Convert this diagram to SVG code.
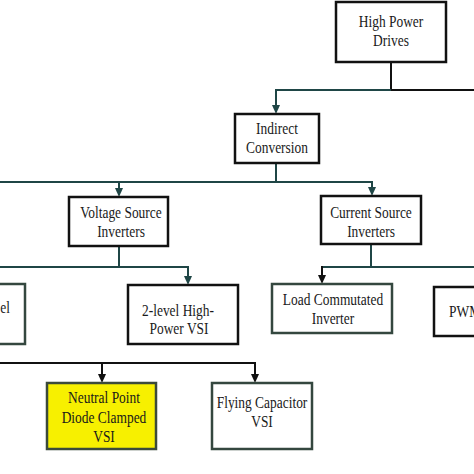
<svg xmlns="http://www.w3.org/2000/svg" width="474" height="474" viewBox="0 0 474 474">
<style>
.bg{fill:#ffffff}
.box{fill:#ffffff;stroke:#111111;stroke-width:2.5}
.boxg{fill:#ffffff;stroke:#34473f;stroke-width:2.5}
.yel{fill:#f7f000;stroke:#3b4a3a;stroke-width:2.5}
text{font-family:"Liberation Serif","Times New Roman",serif;font-size:16px;fill:#1a1a1a;text-anchor:middle}
.t{fill:none;stroke:#1f4646;stroke-width:2}
.k{fill:none;stroke:#111111;stroke-width:2}
.ah{fill:#1f4646}
.ak{fill:#111111}
</style>
<rect class="bg" x="0" y="0" width="474" height="474"/>
<g id="connectors">
<line class="k" x1="391" y1="62" x2="391" y2="90"/>
<line class="t" x1="276" y1="90" x2="391" y2="90"/>
<line class="k" x1="391" y1="90" x2="474" y2="90"/>
<line class="t" x1="276" y1="89" x2="276" y2="106"/>
<polygon class="ah" points="272,105 280,105 276,114"/>
<line class="t" x1="276" y1="163" x2="276" y2="182"/>
<line class="t" x1="-5" y1="182" x2="372" y2="182"/>
<line class="t" x1="119" y1="181" x2="119" y2="189"/>
<polygon class="ah" points="115,188 123,188 119,197"/>
<line class="t" x1="372" y1="181" x2="372" y2="188"/>
<polygon class="ah" points="368,187 376,187 372,196"/>
<line class="t" x1="119" y1="246" x2="119" y2="267"/>
<line class="t" x1="-5" y1="267" x2="188" y2="267"/>
<line class="t" x1="188" y1="266" x2="188" y2="277"/>
<polygon class="ah" points="184,276 192,276 188,285"/>
<line class="t" x1="371" y1="244" x2="371" y2="267"/>
<line class="t" x1="322" y1="267" x2="480" y2="267"/>
<line class="k" x1="322" y1="266" x2="322" y2="276"/>
<polygon class="ak" points="318,275 326,275 322,284"/>
<line class="k" x1="-5" y1="363" x2="255" y2="363"/>
<line class="k" x1="102" y1="362" x2="102" y2="375"/>
<polygon class="ak" points="98,374 106,374 102,383"/>
<line class="k" x1="255" y1="362" x2="255" y2="375"/>
<polygon class="ak" points="251,374 259,374 255,383"/>
</g>
<g id="high-power-drives">
<rect class="box" x="336" y="2" width="110" height="60" stroke-width="3"/>
<text transform="translate(391,0) scale(0.84,1)" x="0" y="27">High Power</text>
<text transform="translate(391,0) scale(0.84,1)" x="0" y="46">Drives</text>
</g>
<g id="indirect-conversion">
<rect class="box" x="235" y="114" width="84" height="49"/>
<text transform="translate(277,0) scale(0.84,1)" x="0" y="134">Indirect</text>
<text transform="translate(277,0) scale(0.84,1)" x="0" y="153">Conversion</text>
</g>
<g id="voltage-source-inverters">
<rect class="box" x="69" y="197" width="99" height="49"/>
<text transform="translate(121,0) scale(0.84,1)" x="0" y="218">Voltage Source</text>
<text transform="translate(121,0) scale(0.84,1)" x="0" y="237">Inverters</text>
</g>
<g id="current-source-inverters">
<rect class="box" x="321" y="196" width="100" height="48"/>
<text transform="translate(371,0) scale(0.84,1)" x="0" y="218">Current Source</text>
<text transform="translate(371,0) scale(0.84,1)" x="0" y="237">Inverters</text>
</g>
<g id="multilevel">
<rect class="boxg" x="-10" y="284" width="35" height="60"/>
<text transform="translate(10,0) scale(0.84,1)" x="0" y="313" style="text-anchor:end">el</text>
</g>
<g id="two-level-vsi">
<rect class="box" x="128" y="285" width="110" height="59"/>
<text transform="translate(178,0) scale(0.84,1)" x="0" y="316">2-level High-</text>
<text transform="translate(179,0) scale(0.84,1)" x="0" y="334">Power VSI</text>
</g>
<g id="load-commutated-inverter">
<rect class="boxg" x="272" y="284" width="120" height="49"/>
<text transform="translate(333,0) scale(0.84,1)" x="0" y="305">Load Commutated</text>
<text transform="translate(333,0) scale(0.84,1)" x="0" y="324">Inverter</text>
</g>
<g id="pwm">
<rect class="box" x="434" y="287" width="70" height="49"/>
<text transform="translate(449,0) scale(0.84,1)" x="0" y="317" style="text-anchor:start">PWM</text>
</g>
<g id="npc-vsi">
<rect class="yel" x="47" y="383" width="109" height="66"/>
<text transform="translate(104,0) scale(0.84,1)" x="0" y="403">Neutral Point</text>
<text transform="translate(104,0) scale(0.84,1)" x="0" y="423">Diode Clamped</text>
<text transform="translate(104,0) scale(0.84,1)" x="0" y="442">VSI</text>
</g>
<g id="flying-capacitor-vsi">
<rect class="boxg" x="212" y="383" width="100" height="66"/>
<text transform="translate(262,0) scale(0.84,1)" x="0" y="408">Flying Capacitor</text>
<text transform="translate(262,0) scale(0.84,1)" x="0" y="427">VSI</text>
</g>
</svg>
